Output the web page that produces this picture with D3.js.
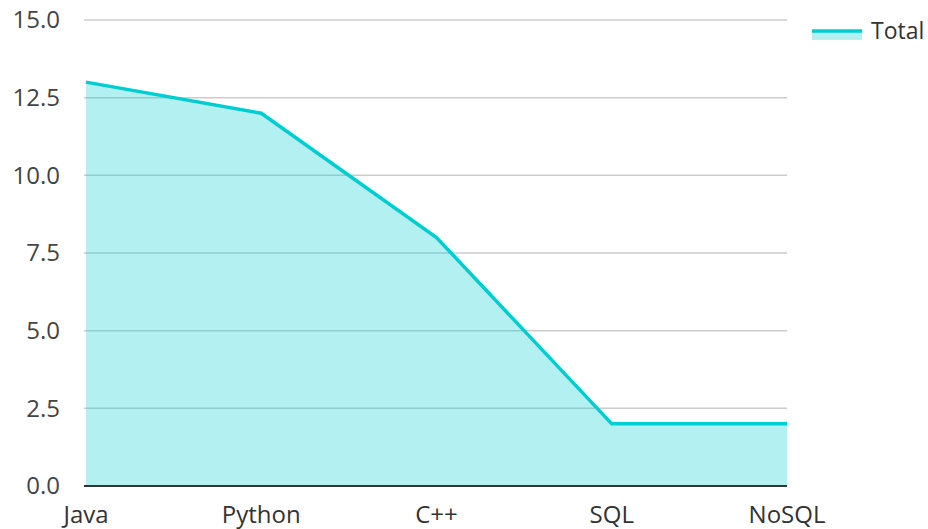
<!DOCTYPE html>
<html><head><meta charset="utf-8">
<script src="https://cdn.jsdelivr.net/npm/d3@7"></script>
<style>body{margin:0;background:#fff}svg{display:block;font-family:"Open Sans",sans-serif}</style>
</head><body><svg id="c" width="928" height="529"></svg>
<script>
const categories = ["Java","Python","C++","SQL","NoSQL"];
const totals = [13, 12, 8, 2, 2];
const yTicks = [0, 2.5, 5, 7.5, 10, 12.5, 15];
const seriesName = "Total";

const svg = d3.select("#c");
const m = {l:86, r:141, t:20, b:43};
const W = 928, H = 529;
const x = d3.scalePoint().domain(categories).range([m.l, W - m.r]);
const y = d3.scaleLinear().domain([0, 15]).range([H - m.b, m.t]);
const color = "#00ced1";

// grid
svg.append("g").selectAll("line").data(yTicks.filter(d => d > 0)).join("line")
  .attr("x1", m.l - 2).attr("x2", W - m.r)
  .attr("y1", d => y(d)).attr("y2", d => y(d))
  .attr("stroke", "#cccccc").attr("stroke-width", 1.5);

const data = categories.map((c, i) => ({c, v: totals[i]}));
svg.append("path").datum(data)
  .attr("d", d3.area().x(d => x(d.c)).y0(y(0)).y1(d => y(d.v)))
  .attr("fill", color).attr("fill-opacity", 0.3);
svg.append("path").datum(data)
  .attr("d", d3.line().x(d => x(d.c)).y(d => y(d.v)))
  .attr("fill", "none").attr("stroke", color).attr("stroke-width", 3.5)
  .attr("stroke-linejoin", "miter");

// baseline
svg.append("line").attr("x1", m.l - 2).attr("x2", W - m.r)
  .attr("y1", y(0)).attr("y2", y(0)).attr("stroke", "#333").attr("stroke-width", 2);

// y labels
svg.append("g").selectAll("text").data(yTicks).join("text")
  .attr("x", 60).attr("y", d => y(d)).attr("dy", "0.35em")
  .attr("text-anchor", "end").attr("font-size", 24).attr("fill", "#444")
  .text(d => d3.format(".1f")(d));

// x labels
svg.append("g").selectAll("text").data(categories).join("text")
  .attr("x", d => x(d)).attr("y", 515).attr("dy", "0.35em")
  .attr("text-anchor", "middle").attr("font-size", 24).attr("fill", "#333")
  .text(d => d);

// legend
const lg = svg.append("g");
lg.append("rect").attr("x", 812).attr("y", 32).attr("width", 50).attr("height", 8)
  .attr("fill", color).attr("fill-opacity", 0.3);
lg.append("line").attr("x1", 812).attr("x2", 862).attr("y1", 31).attr("y2", 31)
  .attr("stroke", color).attr("stroke-width", 3.5);
lg.append("text").attr("x", 871).attr("y", 31).attr("dy", "0.35em")
  .attr("font-size", 23).attr("fill", "#333").text(seriesName);
</script></body></html>
